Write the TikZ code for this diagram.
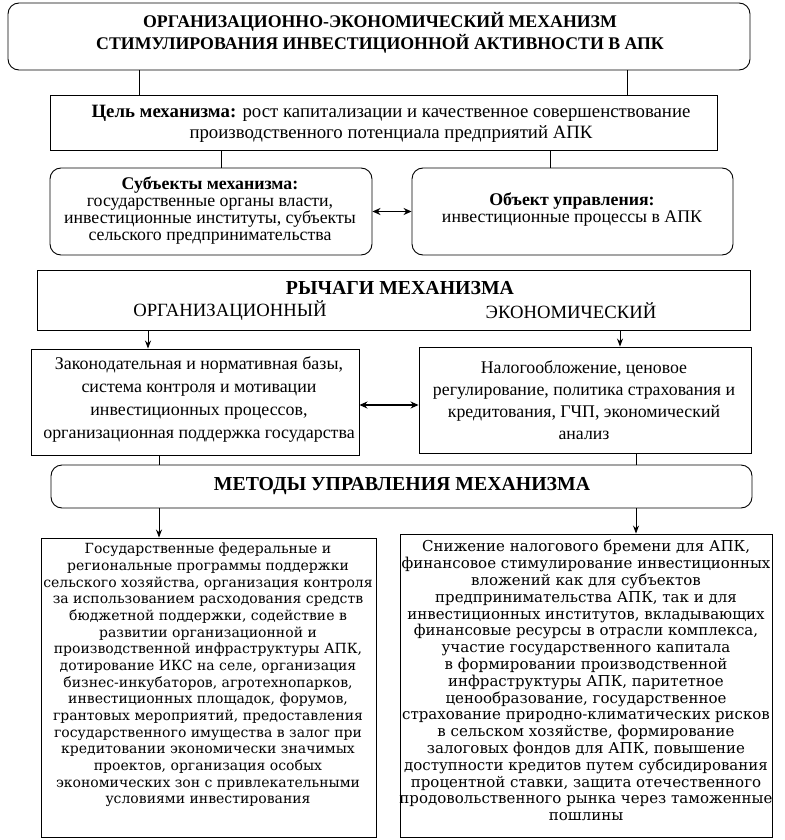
\documentclass[tikz,border=0pt]{standalone}
\usepackage{fontspec}
\setmainfont{Liberation Serif}
\newfontfamily\uf{Liberation Serif}
\newfontfamily\wf{DejaVu Serif}
\usetikzlibrary{arrows.meta}
\begin{document}
\begin{tikzpicture}[x=1pt,y=-1pt,
  box/.style={draw, line width=0.9pt, inner sep=0pt},
  rbox/.style={box, rounded corners=11pt},
  txt/.style={align=center, inner sep=0pt, font=\uf},
  arr/.style={-{Stealth[length=8pt,width=6pt]}, line width=0.9pt},
  darr/.style={{Stealth[length=8pt,width=7pt]}-{Stealth[length=8pt,width=7pt]}, line width=1.3pt},
  ln/.style={line width=0.9pt}]
\useasboundingbox (0,0) rectangle (784,840);
\fill[white] (0,0) rectangle (784,840);

% boxes
\node[rbox, minimum width=742pt, minimum height=67pt] (title) at (379,36.5) {};
\node[box,  minimum width=667pt, minimum height=55pt] (goal)  at (383.5,122.5) {};
\node[rbox, minimum width=322pt, minimum height=87pt] (subj)  at (211,211.5) {};
\node[rbox, minimum width=321pt, minimum height=87pt] (obj)   at (572.5,211.5) {};
\node[box,  minimum width=713pt, minimum height=60pt] (lev)   at (393.5,300) {};
\node[box,  minimum width=328pt, minimum height=106pt] (levL) at (195,402) {};
\node[box,  minimum width=332pt, minimum height=106pt] (levR) at (585,400) {};
\node[rbox, minimum width=701pt, minimum height=43pt] (meth)  at (401.5,486.5) {};
\node[box,  minimum width=335pt, minimum height=299pt] (botL) at (208.5,687.5) {};
\node[box,  minimum width=372pt, minimum height=303pt] (botR) at (586,685.5) {};

% texts
\node[txt, font=\uf\bfseries\fontsize{17.8}{22}\selectfont] (tT) at (380,33)
  {ОРГАНИЗАЦИОННО-ЭКОНОМИЧЕСКИЙ МЕХАНИЗМ\\СТИМУЛИРОВАНИЯ ИНВЕСТИЦИОННОЙ АКТИВНОСТИ В АПК};
\node[txt, font=\uf\fontsize{18.8}{21}\selectfont] (tG) at (391,123.5)
  {\textbf{Цель механизма:} рост капитализации и качественное совершенствование\\производственного потенциала предприятий АПК};
\node[txt, font=\uf\fontsize{17.8}{17}\selectfont] (tS) at (210,211)
  {\textbf{Субъекты механизма:}\\государственные органы власти,\\инвестиционные институты, субъекты\\сельского предпринимательства};
\node[txt, font=\uf\fontsize{17.8}{17}\selectfont] (tO) at (572,210)
  {\textbf{Объект управления:}\\инвестиционные процессы в АПК};
\node[txt, font=\uf\bfseries\fontsize{19.8}{22}\selectfont] (tL) at (400,288) {РЫЧАГИ МЕХАНИЗМА};
\node[txt, font=\uf\fontsize{18.7}{20}\selectfont] (tL1) at (230,311) {ОРГАНИЗАЦИОННЫЙ};
\node[txt, font=\uf\fontsize{18.7}{20}\selectfont] (tL2) at (571,311) {ЭКОНОМИЧЕСКИЙ};
\node[txt, font=\uf\fontsize{17.9}{23}\selectfont] (tLL) at (199,400)
  {Законодательная и нормативная базы,\\система контроля и мотивации\\инвестиционных процессов,\\организационная поддержка государства};
\node[txt, font=\uf\fontsize{17.8}{22}\selectfont] (tLR) at (584,400)
  {Налогообложение, ценовое\\регулирование, политика страхования и\\кредитования, ГЧП, экономический\\анализ};
\node[txt, font=\uf\bfseries\fontsize{19.8}{22}\selectfont] (tM) at (402,486) {МЕТОДЫ УПРАВЛЕНИЯ МЕХАНИЗМА};
\node[txt, font=\wf\fontsize{14}{16.67}\selectfont, anchor=north] (tBL) at (208,543)
  {Государственные федеральные и\\региональные программы поддержки\\сельского хозяйства, организация контроля\\за использованием расходования средств\\бюджетной поддержки, содействие в\\развитии организационной и\\производственной инфраструктуры АПК,\\дотирование ИКС на селе, организация\\бизнес-инкубаторов, агротехнопарков,\\инвестиционных площадок, форумов,\\грантовых мероприятий, предоставления\\государственного имущества в залог при\\кредитовании экономически значимых\\проектов, организация особых\\экономических зон с привлекательными\\условиями инвестирования};
\node[txt, font=\wf\fontsize{15}{16.8}\selectfont, anchor=north] (tBR) at (586,540)
  {Снижение налогового бремени для АПК,\\финансовое стимулирование инвестиционных\\вложений как для субъектов\\предпринимательства АПК, так и для\\инвестиционных институтов, вкладывающих\\финансовые ресурсы в отрасли комплекса,\\участие государственного капитала\\в формировании производственной\\инфраструктуры АПК, паритетное\\ценообразование, государственное\\страхование природно-климатических рисков\\в сельском хозяйстве, формирование\\залоговых фондов для АПК, повышение\\доступности кредитов путем субсидирования\\процентной ставки, защита отечественного\\продовольственного рынка через таможенные\\пошлины};

% connectors
\coordinate (x1) at (139,0);
\coordinate (x2) at (627,0);
\coordinate (x3) at (221,0);
\coordinate (x4) at (550,0);
\coordinate (x5) at (148,0);
\coordinate (x6) at (620,0);
\coordinate (x7) at (159,0);
\coordinate (x8) at (636,0);
\draw[ln] (title.south -| x1) -- (goal.north -| x1);
\draw[ln] (title.south -| x2) -- (goal.north -| x2);
\draw[ln] (goal.south -| x3) -- (subj.north -| x3);
\draw[ln] (goal.south -| x4) -- (obj.north -| x4);
\draw[darr] (subj.east) -- (obj.west);
\draw[arr] (lev.south -| x5) -- (levL.north -| x5);
\draw[arr] (lev.south -| x6) -- (levR.north -| x6);
\draw[darr] ([yshift=-3pt]levL.east) -- ([yshift=-3pt]levL.east -| levR.west);
\draw[ln] (levL.south -| x7) -- (meth.north -| x7);
\draw[ln] (levR.south -| x8) -- (meth.north -| x8);
\draw[arr] (meth.south -| x7) -- (botL.north -| x7);
\draw[arr] (meth.south -| x8) -- (botR.north -| x8);
\end{tikzpicture}
\end{document}
